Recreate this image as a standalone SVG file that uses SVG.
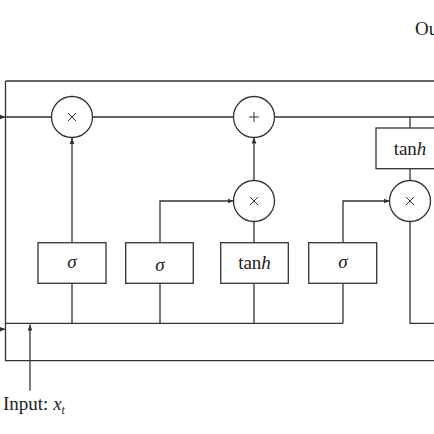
<svg xmlns="http://www.w3.org/2000/svg" width="434" height="434" viewBox="0 0 434 434">
<defs>
<marker id="ah" viewBox="0 0 10 10" refX="10" refY="5" markerWidth="6" markerHeight="6" markerUnits="userSpaceOnUse" orient="auto">
<path d="M0,1 L10,5 L0,9 z" fill="#333"/>
</marker>
<style>
.ln{fill:none;stroke:#333;stroke-width:1.3}
.bx{fill:#fff;stroke:#333;stroke-width:1.3}
.op{fill:#fff;stroke:#333;stroke-width:1.3}
.sym{fill:none;stroke:#333;stroke-width:1}
.t{font-family:"Liberation Serif","DejaVu Serif",serif;font-size:19px;fill:#222}
.i{font-style:italic}
</style>
</defs>
<rect width="434" height="434" fill="#fff"/>
<g id="connectors">
<path class="ln" d="M5.5,81 H440 M5.5,81 V360.7 H440"/>
<path class="ln" d="M5.5,117 H52 M92,117 H234 M274,117 H440"/>
<path class="ln" d="M0,117 H5.5" marker-end="url(#ah)"/>
<path class="ln" d="M0,329.3 H5.5" marker-end="url(#ah)"/>
<path class="ln" d="M410,117 V128"/>
<path class="ln" d="M410,168.7 V180.5"/>
<path class="ln" d="M5.5,323.3 H343"/>
<path class="ln" d="M410,221 V323.3 H440"/>
<path class="ln" d="M72,283.3 V323.3 M160,283.3 V323.3 M254,283.3 V323.3 M343,283.3 V323.3"/>
<path class="ln" d="M72,242.7 V138" marker-end="url(#ah)"/>
<path class="ln" d="M160,242.7 V201 H233.5" marker-end="url(#ah)"/>
<path class="ln" d="M254,242.7 V221.5"/>
<path class="ln" d="M254,180.5 V137.5" marker-end="url(#ah)"/>
<path class="ln" d="M343,242.7 V201 H389.5" marker-end="url(#ah)"/>
<path class="ln" d="M30,390.7 V324.5" marker-end="url(#ah)"/>
</g>
<g id="mul1">
<circle class="op" cx="72" cy="117" r="20.5"/>
<path class="sym" d="M68,113 L76,121 M76,113 L68,121"/>
</g>
<g id="add1">
<circle class="op" cx="254" cy="117" r="20.5"/>
<path class="sym" d="M249,117 H259 M254,112 V122"/>
</g>
<g id="mul2">
<circle class="op" cx="254" cy="201" r="20.5"/>
<path class="sym" d="M250,197 L258,205 M258,197 L250,205"/>
</g>
<g id="mul3">
<circle class="op" cx="410" cy="201" r="20.5"/>
<path class="sym" d="M406,197 L414,205 M414,197 L406,205"/>
</g>
<g id="tanh-out">
<rect class="bx" x="376" y="128" width="68" height="40.7"/>
<text class="t" x="410" y="154.5" text-anchor="middle">tan<tspan class="i">h</tspan></text>
</g>
<g id="sigma1">
<rect class="bx" x="38" y="242.7" width="68" height="40.6"/>
<text class="t i" x="72" y="268" text-anchor="middle">σ</text>
</g>
<g id="sigma2">
<rect class="bx" x="125.7" y="242.7" width="67.6" height="40.6"/>
<text class="t i" x="160" y="270.5" text-anchor="middle">σ</text>
</g>
<g id="tanh1">
<rect class="bx" x="220.7" y="242.7" width="67.6" height="40.6"/>
<text class="t" x="254.5" y="268.5" text-anchor="middle">tan<tspan class="i">h</tspan></text>
</g>
<g id="sigma3">
<rect class="bx" x="308.7" y="242.7" width="68" height="40.6"/>
<text class="t i" x="343" y="268" text-anchor="middle">σ</text>
</g>
<g id="input">
<text class="t" x="3" y="410">Input: <tspan class="i">x</tspan><tspan class="i" font-size="12" dy="4">t</tspan></text>
</g>
<g id="output">
<text class="t" x="415" y="34.5">Ou</text>
</g>
</svg>
